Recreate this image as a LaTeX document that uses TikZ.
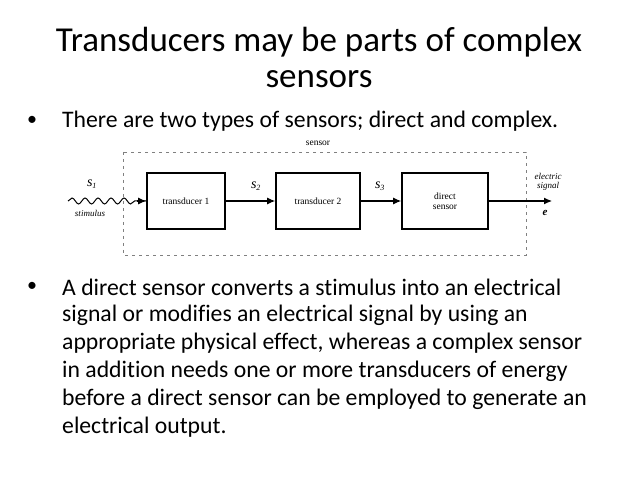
\documentclass[tikz,border=0pt]{standalone}
\usepackage{fontspec}
\setmainfont{Carlito}[Ligatures={NoCommon,TeX}]
\newfontfamily\diag{Liberation Serif}
\usetikzlibrary{decorations.pathmorphing,arrows.meta}
\begin{document}
\begin{tikzpicture}[x=1pt,y=-1pt,
  blk/.style={draw,line width=1.6pt,minimum width=0pt,inner sep=0pt,font=\diag\fontsize{9.5}{10}\selectfont,align=center},
  sig/.style={-{Latex[length=8pt,width=7pt]},line width=1.1pt},
  lab/.style={font=\diag\itshape\fontsize{9}{9.5}\selectfont,align=center,inner sep=0pt},
  txt/.style={anchor=west,inner sep=0pt,font=\fontsize{23.7}{23.7}\selectfont},
  bul/.style={anchor=west,inner sep=0pt,font=\fontsize{20}{20}\selectfont}]
\useasboundingbox (0,0) rectangle (638,478);
\node[font=\fontsize{35}{35}\selectfont] (t1) at (319,42) {Transducers may be parts of complex};
\node[font=\fontsize{35}{35}\selectfont] (t2) at (319,79) {sensors};
\node[bul] (b1) at (27,121) {•};
\node[txt] (b1t) at (62,121) {There are two types of sensors; direct and complex.};
\draw[gray,line width=0.8pt,dash pattern=on 3pt off 4pt] (123,152) rectangle (526,255);
\node[font=\diag\fontsize{9.5}{10}\selectfont] (sl) at (318,143) {sensor};
\node[blk,minimum width=78pt,minimum height=56pt] (tr1) at (186,201) {transducer 1};
\node[blk,minimum width=84pt,minimum height=56pt] (tr2) at (318,201) {transducer 2};
\node[blk,minimum width=86pt,minimum height=56pt] (ds) at (445,201) {direct\\sensor};
\coordinate (in) at (68,201);
\coordinate (out) at (552,201);
\draw[line width=1pt,decorate,decoration={snake,amplitude=3pt,segment length=13pt,post length=8pt}] (in) -- (tr1.west);
\draw[sig] (137,201) -- (tr1.west);
\draw[sig] (tr1) -- (tr2);
\draw[sig] (tr2) -- (ds);
\draw[sig] (ds) -- (out);
\node[lab,font=\diag\itshape\fontsize{14}{14}\selectfont] (s1) at (92,184) {s\textsubscript{\footnotesize 1}};
\node[lab] (st) at (90,213) {stimulus};
\node[lab,font=\diag\itshape\fontsize{14}{14}\selectfont] (s2) at (256,186) {s\textsubscript{\footnotesize 2}};
\node[lab,font=\diag\itshape\fontsize{14}{14}\selectfont] (s3) at (380,186) {s\textsubscript{\footnotesize 3}};
\node[lab] (es) at (548,182) {electric\\signal};
\node[lab,font=\diag\itshape\bfseries\fontsize{11}{11}\selectfont] (e) at (545,213) {e};
\node[bul] (b2) at (27,287) {•};
\node[txt] (l1) at (62,287) {A direct sensor converts a stimulus into an electrical};
\node[txt] (l2) at (62,315) {signal or modifies an electrical signal by using an};
\node[txt] (l3) at (62,343) {appropriate physical effect, whereas a complex sensor};
\node[txt] (l4) at (62,371) {in addition needs one or more transducers of energy};
\node[txt] (l5) at (62,399) {before a direct sensor can be employed to generate an};
\node[txt] (l6) at (62,427) {electrical output.};
\end{tikzpicture}
\end{document}
